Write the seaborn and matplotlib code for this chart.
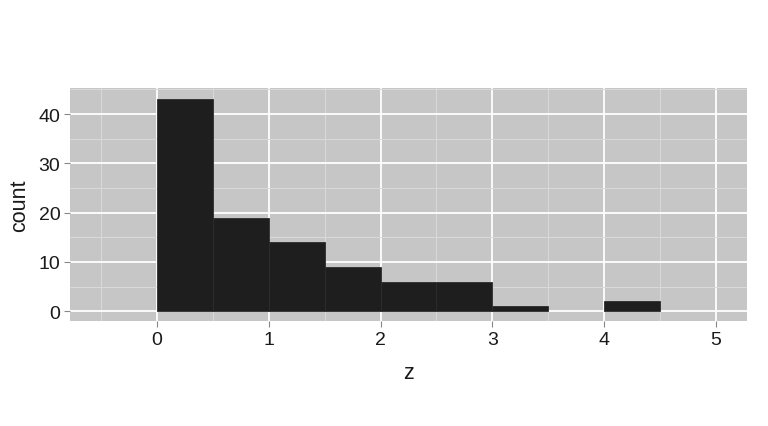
"""ggplot-style histogram of z, redrawn with seaborn."""

import matplotlib

matplotlib.use("Agg")
import matplotlib.pyplot as plt
import numpy as np
import seaborn as sns
from matplotlib.ticker import MultipleLocator

# bins of width 0.5 starting at 0, counts
bin_edges = [0.0, 0.5, 1.0, 1.5, 2.0, 2.5, 3.0, 3.5, 4.0, 4.5]
bin_counts = [43, 19, 14, 9, 6, 6, 1, 0, 2]
x_ticks = [0, 1, 2, 3, 4, 5]
y_ticks = [0, 10, 20, 30, 40]

PANEL = "#c6c6c6"
TEXT = "#1a1a1a"

sns.set_theme(style="darkgrid")
plt.rcParams["font.family"] = ["Liberation Sans", "DejaVu Sans"]

fig = plt.figure(figsize=(7.68, 4.27), dpi=100)
ax = fig.add_axes([70 / 768, 1 - 322 / 427, 677 / 768, 233 / 427])
ax.set_facecolor(PANEL)

centers = (np.array(bin_edges[:-1]) + np.array(bin_edges[1:])) / 2
sns.histplot(
    x=centers,
    weights=bin_counts,
    bins=bin_edges,
    color="#1e1e1e",
    edgecolor="#2c2c2c",
    linewidth=0.6,
    alpha=1.0,
    ax=ax,
)
# empty bins draw nothing in ggplot
for patch in ax.patches:
    if patch.get_height() == 0:
        patch.set_visible(False)

ax.set_xlim(-0.78, 5.28)
ax.set_ylim(-2.0, 45.3)
ax.set_xticks(x_ticks)
ax.set_yticks(y_ticks)
ax.xaxis.set_minor_locator(MultipleLocator(0.5))
ax.yaxis.set_minor_locator(MultipleLocator(5))
ax.grid(which="major", color="white", linewidth=1.3)
ax.grid(which="minor", color="#dadada", linewidth=0.7)
ax.set_axisbelow(True)
for spine in ax.spines.values():
    spine.set_visible(False)

ax.tick_params(axis="both", which="major", length=4, width=0.8, color="#888888",
               labelsize=14, labelcolor=TEXT, pad=3)
ax.tick_params(axis="both", which="minor", length=0)
ax.tick_params(axis="x", bottom=True)
ax.tick_params(axis="y", left=True)

ax.set_xlabel("z", fontsize=15.5, color=TEXT, labelpad=10)
ax.set_ylabel("count", fontsize=15.5, color=TEXT, labelpad=6)

fig.savefig("out.png", dpi=100, facecolor="white")
